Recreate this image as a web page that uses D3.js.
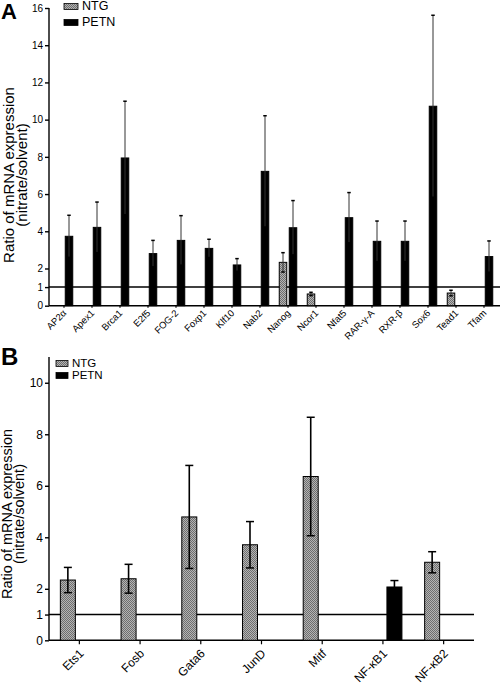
<!DOCTYPE html>
<html>
<head>
<meta charset="utf-8">
<script src="https://cdn.jsdelivr.net/npm/d3@7"></script>
<style>
body { margin: 0; background: #fff; }
svg { display: block; font-family: Arial, "Liberation Sans", sans-serif; }
text.xl { transform-origin: 0 0; }
</style>
</head>
<body>
<svg width="500" height="685"></svg>
<script>
// series names
const series = ["NTG", "PETN"];

// panel A data (null = not measured)
const genesA = ["AP2α", "Apex1", "Brca1", "E2f5", "FOG-2", "Foxp1", "Klf10", "Nab2", "Nanog", "Ncor1", "Nfat5", "RAR-γ-A", "RXR-β", "Sox6", "Tead1", "Tfam"];
const ntgA = [null, null, null, null, null, null, null, null, 2.33, 0.63, null, null, null, null, 0.68, null];
const ntgErrA = [null, null, null, null, null, null, null, null, 0.52, 0.09, null, null, null, null, 0.15, null];
const petnA = [3.73, 4.21, 7.94, 2.80, 3.51, 3.08, 2.19, 7.22, 4.19, null, 4.73, 3.46, 3.46, 10.72, null, 2.64];
const petnErrA = [1.13, 1.36, 3.05, 0.71, 1.33, 0.49, 0.34, 2.99, 1.46, null, 1.35, 1.09, 1.09, 4.89, null, 0.84];
const ticksA = [0, 1, 2, 4, 6, 8, 10, 12, 14, 16];

// panel B data
const genesB = ["Ets1", "Fosb", "Gata6", "JunD", "Mitf", "NF-κB1", "NF-κB2"];
const ntgB = [2.34, 2.39, 4.79, 3.71, 6.36, null, 3.03];
const ntgErrB = [0.49, 0.56, 2.0, 0.9, 2.3, null, 0.41];
const petnB = [null, null, null, null, null, 2.07, null];
const petnErrB = [null, null, null, null, null, 0.25, null];
const ticksB = [0, 1, 2, 4, 6, 8, 10];

const svg = d3.select("svg");

// hatched grey fill for NTG bars
const pat = svg.append("defs").append("pattern")
  .attr("id", "hatch").attr("width", 2).attr("height", 2)
  .attr("patternUnits", "userSpaceOnUse");
pat.append("rect").attr("width", 2).attr("height", 2).attr("fill", "#b4b4b4");
pat.append("rect").attr("width", 1).attr("height", 1).attr("fill", "#6e6e6e");
pat.append("rect").attr("x", 1).attr("y", 1).attr("width", 1).attr("height", 1).attr("fill", "#6e6e6e");

const fillFor = s => s === "NTG" ? "url(#hatch)" : "#000";

// builds rows {gene, series, value, err}
function rows(genes, ntg, ntgErr, petn, petnErr) {
  const out = [];
  genes.forEach((g, i) => {
    if (ntg[i] != null) out.push({ gene: g, series: "NTG", value: ntg[i], err: ntgErr[i] });
    if (petn[i] != null) out.push({ gene: g, series: "PETN", value: petn[i], err: petnErr[i] });
  });
  return out;
}

function drawPanel(cfg) {
  const g = svg.append("g");
  const x = d3.scaleBand().domain(cfg.genes).range(cfg.xRange);
  const y = d3.scaleLinear().domain(cfg.yDomain).range(cfg.yRange);
  const sub = d3.scalePoint().domain(series).range([-cfg.offset, cfg.offset]);
  const mid = gene => x(gene) + x.bandwidth() / 2;
  const cx = d => mid(d.gene) + sub(d.series);

  // y axis
  const ya = g.append("g").attr("transform", `translate(${cfg.axisLeft},0)`)
    .call(d3.axisLeft(y).tickValues(cfg.ticks).tickSize(4).tickSizeOuter(0).tickPadding(2));
  ya.selectAll("path,line").attr("stroke", "#000").attr("stroke-width", 1.4);
  ya.selectAll("text").attr("font-size", cfg.tickFont).attr("fill", "#000");
  ya.select(".domain").attr("d", `M0,${y(0)}V${cfg.yRange[1]}`);

  // x axis ticks only, labels drawn below
  const xa = g.append("g").attr("transform", `translate(0,${y(0)})`)
    .call(d3.axisBottom(x).tickSize(cfg.xTick).tickSizeOuter(0));
  xa.select(".domain").remove();
  xa.selectAll("text").remove();
  xa.selectAll("line").attr("stroke", "#000").attr("stroke-width", 1.2);
  g.append("line")
    .attr("x1", cfg.axisLeft).attr("x2", cfg.axisRight)
    .attr("y1", y(0)).attr("y2", y(0))
    .attr("stroke", "#000").attr("stroke-width", 1.6);

  // rotated gene labels (css transform)
  g.selectAll("text.xl").data(cfg.genes).enter().append("text")
    .attr("class", "xl")
    .style("transform", d => `translate(${mid(d) + cfg.labelDx}px,${y(0) + cfg.labelDy}px) rotate(-45deg)`)
    .attr("text-anchor", "end")
    .attr("font-size", cfg.labelFont)
    .text(d => d);

  // reference line at ratio 1
  g.append("line")
    .attr("x1", cfg.axisLeft).attr("x2", cfg.axisRight)
    .attr("y1", y(1)).attr("y2", y(1))
    .attr("stroke", "#000").attr("stroke-width", 1.5);

  // bars
  g.selectAll("rect.bar").data(cfg.data).enter().append("rect")
    .attr("class", "bar")
    .attr("x", d => cx(d) - cfg.barW / 2)
    .attr("width", cfg.barW)
    .attr("y", d => y(d.value))
    .attr("height", d => y(0) - y(d.value))
    .attr("fill", d => fillFor(d.series))
    .attr("stroke", "#000").attr("stroke-width", 1);

  // error bars
  const eb = g.selectAll("g.err").data(cfg.data).enter().append("g").attr("class", "err");
  eb.append("line")
    .attr("x1", cx).attr("x2", cx)
    .attr("y1", d => y(d.value - d.err)).attr("y2", d => y(d.value + d.err))
    .attr("stroke", cfg.errColor).attr("stroke-width", cfg.errW);
  [1, -1].forEach(sgn => {
    eb.append("line")
      .attr("x1", d => cx(d) - cfg.capW / 2).attr("x2", d => cx(d) + cfg.capW / 2)
      .attr("y1", d => y(d.value + sgn * d.err)).attr("y2", d => y(d.value + sgn * d.err))
      .attr("stroke", "#000").attr("stroke-width", 1.5);
  });

  // y title
  const t = g.append("text")
    .attr("transform", `translate(${cfg.titleX},${cfg.titleY}) rotate(-90)`)
    .attr("text-anchor", "middle").attr("font-size", cfg.titleFont);
  t.append("tspan").attr("x", 0).attr("dy", 0).text("Ratio of mRNA expression");
  t.append("tspan").attr("x", 0).attr("dy", cfg.titleGap).text("(nitrate/solvent)");

  // panel letter
  g.append("text").attr("x", 1).attr("y", cfg.letterY)
    .attr("font-size", cfg.letterFont).attr("font-weight", "bold").text(cfg.letter);

  // legend
  const lg = g.selectAll("g.leg").data(series).enter().append("g")
    .attr("class", "leg")
    .attr("transform", (d, i) => `translate(${cfg.legX},${cfg.legY + i * cfg.legGap})`);
  lg.append("rect").attr("x", 0).attr("y", -cfg.swH - 0.5)
    .attr("width", cfg.swW).attr("height", cfg.swH)
    .attr("fill", fillFor).attr("stroke", "#000").attr("stroke-width", 0.8);
  lg.append("text").attr("x", cfg.swW + 4).attr("y", 0)
    .attr("font-size", cfg.legFont).text(d => d);
}

drawPanel({
  genes: genesA, data: rows(genesA, ntgA, ntgErrA, petnA, petnErrA),
  xRange: [50, 498], yDomain: [0, 16], yRange: [305.7, 8], ticks: ticksA,
  axisLeft: 49, axisRight: 500, offset: 5, barW: 7.5, capW: 3.5,
  errColor: "#333", errW: 1, tickFont: 10, xTick: 2, labelFont: 9.5,
  labelDx: 3, labelDy: 8,
  titleX: 14, titleY: 175, titleFont: 15, titleGap: 13,
  letter: "A", letterY: 19, letterFont: 22,
  legX: 64, legY: 10, legGap: 16, swW: 14, swH: 6, legFont: 12.5
});

drawPanel({
  genes: genesB, data: rows(genesB, ntgB, ntgErrB, petnB, petnErrB),
  xRange: [49, 474], yDomain: [0, 11], yRange: [640.3, 357], ticks: ticksB,
  axisLeft: 49, axisRight: 474, offset: 11.5, barW: 15, capW: 8,
  errColor: "#000", errW: 1.6, tickFont: 12, xTick: 4, labelFont: 12,
  labelDx: 5, labelDy: 14,
  titleX: 12, titleY: 514, titleFont: 14.5, titleGap: 12,
  letter: "B", letterY: 365, letterFont: 24,
  legX: 56, legY: 367, legGap: 12, swW: 12, swH: 6, legFont: 11.5
});
</script>
</body>
</html>
